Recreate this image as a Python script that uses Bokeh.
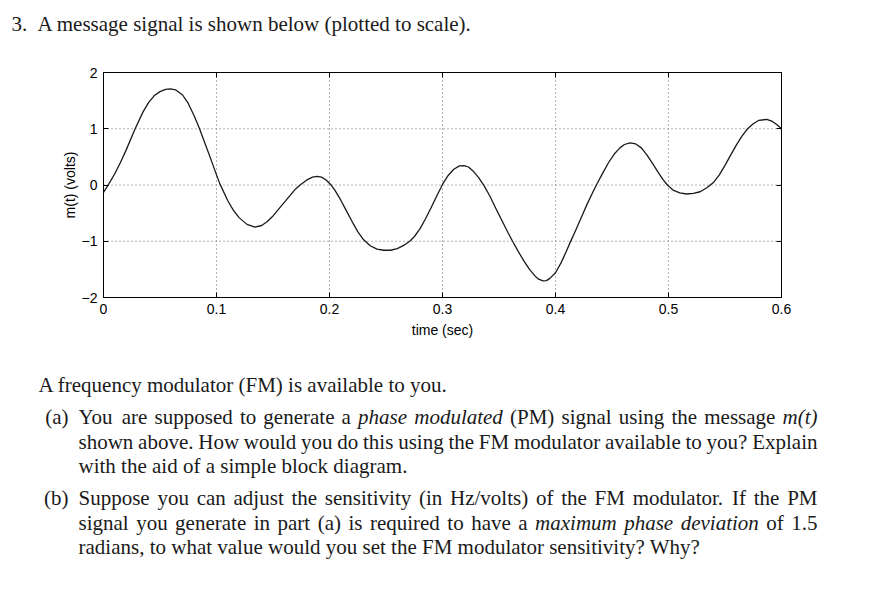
from bokeh.plotting import figure
from bokeh.models import Label, LinearAxis, FixedTicker, Range1d
from bokeh.embed import file_html
from bokeh.resources import INLINE

# ---- data ----
t_sec = [0.000, 0.005, 0.010, 0.015, 0.020, 0.028, 0.035, 0.040, 0.045, 0.050,
         0.055, 0.059, 0.064, 0.070, 0.075, 0.080, 0.085, 0.090, 0.095, 0.100,
         0.103, 0.110, 0.115, 0.120, 0.127, 0.134, 0.140, 0.145, 0.150, 0.155,
         0.160, 0.165, 0.170, 0.174, 0.180, 0.185, 0.189, 0.193, 0.197, 0.201,
         0.205, 0.210, 0.215, 0.220, 0.225, 0.230, 0.236, 0.242, 0.248, 0.254,
         0.260, 0.266, 0.271, 0.275, 0.280, 0.285, 0.290, 0.295, 0.300, 0.305,
         0.310, 0.315, 0.319, 0.323, 0.327, 0.332, 0.337, 0.342, 0.347, 0.352,
         0.357, 0.362, 0.367, 0.372, 0.377, 0.382, 0.385, 0.389, 0.392, 0.395,
         0.400, 0.405, 0.410, 0.413, 0.418, 0.423, 0.428, 0.433, 0.437, 0.442,
         0.447, 0.452, 0.457, 0.461, 0.466, 0.471, 0.476, 0.481, 0.486, 0.491,
         0.495, 0.499, 0.504, 0.510, 0.516, 0.522, 0.528, 0.534, 0.540, 0.545,
         0.550, 0.555, 0.560, 0.565, 0.570, 0.575, 0.580, 0.587, 0.592, 0.596,
         0.600]
m_volts = [-0.13, 0.03, 0.20, 0.40, 0.62, 1.00, 1.30, 1.47, 1.59, 1.66,
           1.70, 1.71, 1.69, 1.60, 1.45, 1.24, 1.00, 0.73, 0.46, 0.18,
           0.02, -0.28, -0.45, -0.58, -0.70, -0.75, -0.72, -0.65, -0.55, -0.43,
           -0.31, -0.19, -0.07, 0.00, 0.09, 0.14, 0.155, 0.14, 0.09, 0.01,
           -0.10, -0.27, -0.46, -0.65, -0.83, -0.97, -1.08, -1.14, -1.16, -1.16,
           -1.13, -1.07, -1.00, -0.92, -0.78, -0.60, -0.40, -0.19, 0.01, 0.17,
           0.28, 0.34, 0.345, 0.32, 0.25, 0.13, -0.02, -0.20, -0.41, -0.61,
           -0.81, -1.00, -1.18, -1.35, -1.50, -1.62, -1.675, -1.705, -1.70, -1.66,
           -1.56, -1.38, -1.16, -1.02, -0.80, -0.57, -0.34, -0.13, 0.03, 0.22,
           0.40, 0.55, 0.66, 0.72, 0.75, 0.73, 0.66, 0.53, 0.38, 0.22,
           0.10, 0.00, -0.09, -0.14, -0.16, -0.15, -0.12, -0.05, 0.05, 0.18,
           0.35, 0.53, 0.71, 0.87, 1.00, 1.09, 1.15, 1.165, 1.13, 1.07,
           1.00]

x_ticks = [0, 0.1, 0.2, 0.3, 0.4, 0.5, 0.6]
x_tick_labels = ["0", "0.1", "0.2", "0.3", "0.4", "0.5", "0.6"]
y_ticks = [-2, -1, 0, 1, 2]
y_tick_labels = ["−2", "−1", "0", "1", "2"]
x_label = "time (sec)"
y_label = "m(t) (volts)"

# text of the page
title_num = "3."
title_text = "A message signal is shown below (plotted to scale)."
intro = "A frequency modulator (FM) is available to you."
item_a = "(a)"
a_line1 = [("You are supposed to generate a", False), ("phase modulated", True),
           ("(PM) signal using the message", False), ("m(t)", True)]
a_line2 = [("shown above. How would you do this using the FM modulator available to you? Explain", False)]
a_line3 = "with the aid of a simple block diagram."
item_b = "(b)"
b_line1 = [("Suppose you can adjust the sensitivity (in Hz/volts) of the FM modulator. If the PM", False)]
b_line2 = [("signal you generate in part (a) is required to have a", False),
           ("maximum phase deviation", True), ("of 1.5", False)]
b_line3 = "radians, to what value would you set the FM modulator sensitivity? Why?"

# ---- page geometry (pixels) ----
W, H = 876, 611
FL, FR, FT, FB = 103, 781, 72, 297      # chart frame box
T0, T1 = x_ticks[0], x_ticks[-1]
V0, V1 = y_ticks[0], y_ticks[-1]
px_t = (FR - FL) / (T1 - T0)
px_v = (FB - FT) / (V1 - V0)

p = figure(width=W, height=H, output_backend="svg", toolbar_location=None,
           x_range=Range1d(0, W), y_range=Range1d(H, 0),
           x_axis_type=None, y_axis_type=None,
           min_border=0, min_border_left=0, min_border_right=0,
           min_border_top=0, min_border_bottom=0,
           background_fill_color="white", border_fill_color="white")
p.title.visible = False
p.outline_line_color = None
p.xgrid.visible = False
p.ygrid.visible = False

# chart coordinate system mapped onto the frame box
p.extra_x_ranges = {"t": Range1d(T0 - FL / px_t, T1 + (W - FR) / px_t)}
p.extra_y_ranges = {"v": Range1d(V0 - (H - FB) / px_v, V1 + FT / px_v)}

AX_FONT = "Liberation Sans"
AX_SIZE = "14px"
xo = {v: s for v, s in zip(x_ticks, x_tick_labels)}
yo = {v: s for v, s in zip(y_ticks, y_tick_labels)}


def make_axis(ticks, overrides, loc, bounds, label=None, show_labels=True):
    ax = LinearAxis(x_range_name="t", y_range_name="v",
                    ticker=FixedTicker(ticks=ticks), fixed_location=loc,
                    bounds=bounds, major_tick_in=5, major_tick_out=0,
                    minor_tick_line_color=None, axis_line_color="black",
                    axis_line_width=1, major_tick_line_color="black",
                    major_label_overrides=overrides if show_labels else {v: "" for v in ticks},
                    major_label_text_font=AX_FONT,
                    major_label_text_font_size=AX_SIZE if show_labels else "0px",
                    major_label_text_color="black", major_label_standoff=6)
    if label:
        ax.axis_label = label
        ax.axis_label_text_font = AX_FONT
        ax.axis_label_text_font_size = AX_SIZE
        ax.axis_label_text_font_style = "normal"
        ax.axis_label_text_color = "black"
        ax.axis_label_standoff = 5
    return ax


# grid (dotted) at tick positions, inside the box
nx, ny = len(x_ticks), len(y_ticks)
p.segment(x0=x_ticks, y0=[V0] * nx, x1=x_ticks, y1=[V1] * nx,
          x_range_name="t", y_range_name="v",
          line_color="#666666", line_dash="1 3", line_width=1)
p.segment(x0=[T0] * ny, y0=y_ticks, x1=[T1] * ny, y1=y_ticks,
          x_range_name="t", y_range_name="v",
          line_color="#666666", line_dash="1 3", line_width=1)

p.line(t_sec, m_volts, x_range_name="t", y_range_name="v",
       line_color="#1a1a1a", line_width=1.3, line_join="round")

p.add_layout(make_axis(x_ticks, xo, V0, (T0, T1), label=x_label), "below")
p.add_layout(make_axis(x_ticks, xo, V1, (T0, T1), show_labels=False), "above")
ly = make_axis(y_ticks, yo, T0, (V0, V1), label=y_label)
ly.axis_label_standoff = 1
p.add_layout(ly, "left")
p.add_layout(make_axis(y_ticks, yo, T1, (V0, V1), show_labels=False), "right")

# ---- page text ----
TXT_FONT = "Liberation Serif"
SIZE = 21
TXT_COLOR = "#1a1a1a"

ROMAN = dict(zip("abcdefghijklmnopqrstuvwxyz",
                 [444, 500, 444, 500, 444, 333, 500, 500, 278, 278, 500, 278, 778,
                  500, 500, 500, 500, 333, 389, 278, 500, 500, 722, 500, 500, 444]))
ROMAN.update({"A": 722, "E": 611, "F": 556, "H": 722, "I": 333, "M": 889, "P": 556,
              "S": 556, "W": 944, "Y": 722, ".": 250, ",": 250, "(": 333, ")": 333,
              "?": 444, "/": 278, "1": 500, "3": 500, "5": 500})
ITALIC = dict(ROMAN)
ITALIC.update({"a": 500, "f": 278, "m": 722, "v": 444, "x": 444, "y": 444, "r": 389})


def wwidth(word, italic):
    tab = ITALIC if italic else ROMAN
    return sum(tab.get(c, 500) for c in word) * SIZE / 1000.0


def put(text, cx, cy, italic=False, align="left"):
    p.add_layout(Label(x=cx, y=cy, text=text, text_font=TXT_FONT,
                       text_font_size=f"{SIZE}px",
                       text_font_style="italic" if italic else "normal",
                       text_align=align, text_baseline="alphabetic",
                       text_color=TXT_COLOR))


def justified(segments, x0, x1, cy):
    words = [(w, it) for s, it in segments for w in s.split(" ")]
    widths = [wwidth(w, it) for w, it in words]
    gap = (x1 - x0 - sum(widths)) / (len(words) - 1)
    x = x0
    for (w, it), wd in zip(words, widths):
        put(w, x, cy, italic=it)
        x += wd + gap


LX, RX = 78, 817

put(title_num, 11, 23)
put(title_text, 37, 23)
put(intro, 38, 384)

put(item_a, 68, 416.5, align="right")
justified(a_line1, LX, RX, 416.5)
justified(a_line2, LX, RX, 441)
put(a_line3, LX, 465.5)

put(item_b, 68, 497.5, align="right")
justified(b_line1, LX, RX, 497.5)
justified(b_line2, LX, RX, 522)
put(b_line3, LX, 546.5)

open("out.html", "w").write(file_html(p, INLINE))
